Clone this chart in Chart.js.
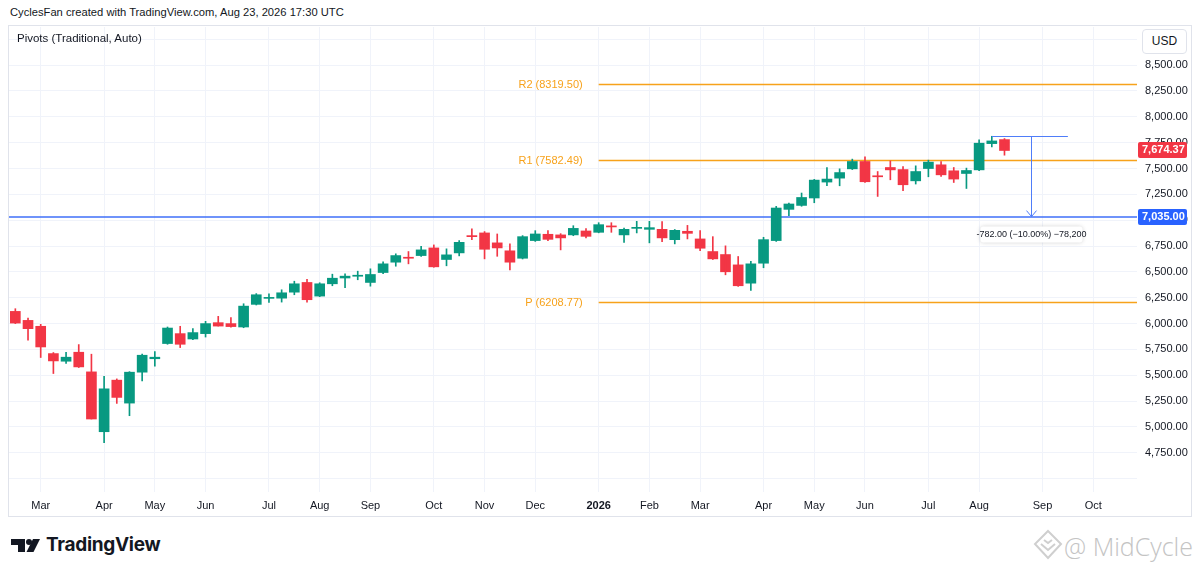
<!DOCTYPE html>
<html>
<head>
<meta charset="utf-8">
<script src="https://cdn.jsdelivr.net/npm/chart.js@4.4.1/dist/chart.umd.min.js"></script>
<style>
    body { margin: 0; width: 1200px; height: 574px; background: #fff; position: relative; overflow: hidden;
           font-family: "Liberation Sans", Arial, sans-serif; color: #131722; }
    #header { position: absolute; left: 10px; top: 6px; font-size: 11.2px; }
    #frame { position: absolute; left: 8px; top: 25px; width: 1182px; height: 490px; border: 1px solid #e0e3eb; }
    #wrap { position: absolute; left: 9px; top: 26px; width: 1182px; height: 490px; }
    #study { position: absolute; left: 17px; top: 32px; font-size: 11.5px; }
    #usd { position: absolute; left: 1142px; top: 29px; width: 43px; height: 23px; border: 1px solid #e0e3eb;
           border-radius: 4px; background: #fff; font-size: 12px; text-align: center; line-height: 23px; }
    #logo { position: absolute; left: 11px; top: 534px; }
    #logotext { position: absolute; left: 46px; top: 533px; font-family: Inter, "Liberation Sans", sans-serif;
                font-weight: 700; font-size: 19px; letter-spacing: -0.3px; }
    #wm { position: absolute; left: 1032px; top: 528px; }
    #wmtext { position: absolute; left: 1064px; top: 529px; font-family: "Open Sans", sans-serif; font-weight: 300;
              font-size: 25px; color: #c4c4c4; white-space: nowrap; }
</style>
</head>
<body>
<div id="header">CyclesFan created with TradingView.com, Aug 23, 2026 17:30 UTC</div>
<div id="frame"></div>
<div id="wrap"><canvas id="myChart"></canvas></div>
<div id="study">Pivots (Traditional, Auto)</div>
<div id="usd">USD</div>
<svg id="logo" width="32" height="20" viewBox="0 0 32 20">
    <rect x="0" y="5" width="14" height="6" fill="#131722"/>
    <rect x="7" y="5" width="7" height="13" fill="#131722"/>
    <circle cx="18" cy="8" r="3" fill="#131722"/>
    <polygon points="22,5 29,5 22.5,18 15.5,18" fill="#131722"/>
</svg>
<div id="logotext">TradingView</div>
<svg id="wm" width="32" height="34" viewBox="0 0 32 34">
    <g fill="none" stroke="#cfcfcf" stroke-width="2">
        <polygon points="16,3 29,16 16,30 3,16"/>
        <polyline points="9,16 16,22 23,16"/>
        <polyline points="12,12 16,15 20,12"/>
    </g>
</svg>
<div id="wmtext">@ MidCycle</div>

<script>
// weekly candles, Feb 17 2025 .. Aug 17 2026
const opens  = [6118, 6031, 5974, 5710, 5636, 5723, 5533, 4954, 5453, 5231, 5530, 5660, 5807, 5903, 5851, 5903, 6009, 6000, 5967, 6186,
                6244, 6246, 6304, 6398, 6266, 6385, 6441, 6458, 6398, 6494, 6594, 6642, 6658, 6732, 6620, 6684, 6851, 6877, 6781, 6704,
                6632, 6803, 6864, 6858, 6858, 6896, 6883, 6945, 6858, 6921, 6912, 6912, 6812, 6893, 6819, 6697, 6668, 6568, 6391, 6584,
                6803, 7105, 7143, 7215, 7369, 7407, 7497, 7568, 7430, 7510, 7490, 7381, 7500, 7536, 7478, 7452, 7487, 7741, 7780];
const highs  = [6144, 6054, 5993, 5720, 5723, 5797, 5704, 5491, 5465, 5535, 5704, 5730, 5967, 5974, 5951, 6022, 6070, 6057, 6192, 6290,
                6289, 6327, 6410, 6427, 6395, 6478, 6482, 6507, 6530, 6597, 6675, 6697, 6748, 6761, 6723, 6803, 6916, 6890, 6867, 6771,
                6851, 6899, 6899, 6870, 6947, 6918, 6976, 6976, 6925, 6989, 6989, 6986, 6910, 6950, 6899, 6841, 6752, 6649, 6603, 6835,
                7134, 7165, 7263, 7395, 7510, 7497, 7591, 7613, 7471, 7574, 7519, 7526, 7581, 7568, 7510, 7504, 7777, 7812, 7790];
const lows   = [6000, 5839, 5672, 5517, 5614, 5575, 5077, 4848, 5228, 5109, 5446, 5588, 5800, 5768, 5845, 5870, 5976, 5965, 5960, 6180,
                6205, 6208, 6279, 6208, 6260, 6366, 6347, 6424, 6362, 6482, 6555, 6578, 6650, 6545, 6559, 6655, 6812, 6626, 6651, 6520,
                6625, 6795, 6803, 6713, 6850, 6829, 6878, 6883, 6786, 6877, 6781, 6793, 6771, 6819, 6706, 6620, 6472, 6360, 6321, 6540,
                6795, 7044, 7135, 7169, 7333, 7333, 7490, 7365, 7230, 7391, 7285, 7350, 7420, 7423, 7365, 7307, 7480, 7709, 7629];
const closes = [6005, 5951, 5774, 5639, 5675, 5581, 5077, 5369, 5286, 5530, 5694, 5675, 5957, 5800, 5913, 6000, 5976, 5971, 6169, 6279,
                6253, 6298, 6385, 6231, 6385, 6439, 6459, 6468, 6475, 6578, 6658, 6632, 6713, 6549, 6665, 6786, 6841, 6719, 6732, 6594,
                6841, 6867, 6815, 6829, 6921, 6844, 6957, 6935, 6912, 6931, 6928, 6829, 6902, 6873, 6729, 6626, 6501, 6366, 6578, 6812,
                7118, 7157, 7220, 7388, 7398, 7461, 7568, 7372, 7420, 7487, 7343, 7471, 7562, 7439, 7398, 7481, 7745, 7767, 7674.37];

// time axis: bar index of first weekly bar in each month
const monthTickIdx    = [2, 7, 11, 15, 20, 24, 28, 33, 37, 41, 46, 50, 54, 59, 63, 67, 72, 76, 81, 85];
const monthTickLabels = ["Mar", "Apr", "May", "Jun", "Jul", "Aug", "Sep", "Oct", "Nov", "Dec",
                         "2026", "Feb", "Mar", "Apr", "May", "Jun", "Jul", "Aug", "Sep", "Oct"];
const priceTicks = [4500, 4750, 5000, 5250, 5500, 5750, 6000, 6250, 6500, 6750, 7000, 7250, 7500, 7750, 8000, 8250, 8500, 8750];

// pivots (Traditional, Auto) for 2026
const pivotNames  = ["R2", "R1", "P"];
const pivotValues = [8319.50, 7582.49, 6208.77];
const pivotStartIdx = 46;

// horizontal line + measure tool
const hLinePrice = 7035.00;
const measureFrom = 7812, measureTo = 7035;
const measureIdx = [77, 80.1, 83];
const measureText = "-782.00 (\u221210.00%) \u221278,200";

const UP = "#089981", DOWN = "#F23645", PIVOT = "#F7A21B", BLUE = "#2962FF";

const candleColors = closes.map((c, i) => c >= opens[i] ? UP : DOWN);
const fmt = v => v.toLocaleString("en-US", { minimumFractionDigits: 2, maximumFractionDigits: 2 });

function priceTag(ctx, chart, value, color) {
    const y = chart.scales.y.getPixelForValue(value);
    const x = chart.chartArea.right + 1;
    ctx.fillStyle = color;
    ctx.beginPath();
    ctx.roundRect(x, Math.round(y) - 8, 49, 16, 2);
    ctx.fill();
    ctx.fillStyle = "#fff";
    ctx.font = "bold 11px 'Liberation Sans', Arial, sans-serif";
    ctx.textAlign = "left";
    ctx.textBaseline = "middle";
    ctx.fillText(fmt(value), x + 4, Math.round(y));
}

const overlays = {
    id: "overlays",
    beforeDatasetsDraw(chart) {
        const { ctx, chartArea, scales } = chart;
        ctx.save();
        // pivot levels
        const x0 = scales.x.getPixelForValue(pivotStartIdx);
        ctx.font = "11px 'Liberation Sans', Arial, sans-serif";
        ctx.textAlign = "right";
        ctx.textBaseline = "middle";
        pivotValues.forEach((v, i) => {
            const y = Math.round(scales.y.getPixelForValue(v)) + 0.5;
            ctx.strokeStyle = PIVOT;
            ctx.lineWidth = 1.5;
            ctx.beginPath();
            ctx.moveTo(x0, y);
            ctx.lineTo(chartArea.right, y);
            ctx.stroke();
            ctx.fillStyle = PIVOT;
            ctx.fillText(pivotNames[i] + " (" + v.toFixed(2) + ")", x0 - 16, y);
        });
        // horizontal line
        const yb = Math.round(scales.y.getPixelForValue(hLinePrice));
        ctx.strokeStyle = "#3f6ff8";
        ctx.lineWidth = 1.4;
        ctx.beginPath();
        ctx.moveTo(chartArea.left, yb);
        ctx.lineTo(chartArea.right, yb);
        ctx.stroke();
        ctx.restore();
    },
    afterDraw(chart) {
        const { ctx, scales } = chart;
        ctx.save();
        // measure tool
        const ya = Math.round(scales.y.getPixelForValue(measureFrom)) + 0.5;
        const yb = scales.y.getPixelForValue(measureTo);
        const xs = scales.x.getPixelForValue(measureIdx[0]);
        const xm = Math.round(scales.x.getPixelForValue(measureIdx[1])) + 0.5;
        const xe = scales.x.getPixelForValue(measureIdx[2]);
        ctx.strokeStyle = "#4f7df9";
        ctx.lineWidth = 1;
        ctx.beginPath();
        ctx.moveTo(xs, ya); ctx.lineTo(xe, ya);
        ctx.moveTo(xm, ya); ctx.lineTo(xm, yb);
        ctx.moveTo(xm - 5, yb - 6); ctx.lineTo(xm, yb); ctx.lineTo(xm + 5, yb - 6);
        ctx.stroke();
        // measure label
        ctx.shadowColor = "rgba(0,0,0,0.18)";
        ctx.shadowBlur = 4;
        ctx.fillStyle = "#fff";
        ctx.beginPath();
        ctx.roundRect(xm - 51, yb + 10, 102, 16, 3);
        ctx.fill();
        ctx.shadowColor = "transparent";
        ctx.fillStyle = "#131722";
        ctx.font = "9px 'Liberation Sans', Arial, sans-serif";
        ctx.textAlign = "center";
        ctx.textBaseline = "middle";
        ctx.fillText(measureText, xm, yb + 18);
        // price tags on the axis
        priceTag(ctx, chart, closes[closes.length - 1], DOWN);
        priceTag(ctx, chart, hLinePrice, BLUE);
        ctx.restore();
    }
};

const labels = closes.map((c, i) => i);

new Chart(document.getElementById("myChart").getContext("2d"), {
    type: "bar",
    data: {
        datasets: [{
            label: "wick",
            data: labels.map(i => ({ x: i, y: [lows[i], highs[i]] })),
            backgroundColor: candleColors,
            barThickness: 1,
            grouped: false,
            minBarLength: 1
        }, {
            label: "body",
            data: labels.map(i => ({ x: i, y: [opens[i], closes[i]] })),
            backgroundColor: candleColors,
            barThickness: 10,
            grouped: false,
            minBarLength: 1
        }]
    },
    options: {
        responsive: true,
        maintainAspectRatio: false,
        animation: false,
        layout: { padding: { top: 1, left: 0, right: 0, bottom: 0 } },
        plugins: { legend: { display: false }, tooltip: { enabled: false } },
        scales: {
            x: {
                type: "linear",
                offset: false,
                min: -0.5,
                max: 88.45,
                border: { display: false },
                grid: { color: "#f0f3fa", drawTicks: false, offset: false },
                afterBuildTicks: s => { s.ticks = monthTickIdx.map(v => ({ value: v })); },
                afterFit: s => { s.height = 24; s.paddingLeft = 0; s.paddingRight = 0; },
                ticks: {
                    padding: 7,
                    autoSkip: false,
                    maxRotation: 0,
                    color: "#131722",
                    font: ctx => ({ size: 11, family: "'Liberation Sans', Arial, sans-serif",
                                    weight: ctx.tick && ctx.tick.value === 46 ? "bold" : "normal" }),
                    callback: v => monthTickLabels[monthTickIdx.indexOf(v)]
                }
            },
            y: {
                position: "right",
                min: 4371,
                max: 8869,
                border: { display: false },
                grid: { color: "#f0f3fa", drawTicks: false },
                afterBuildTicks: s => { s.ticks = priceTicks.map(v => ({ value: v })); },
                afterFit: s => { s.width = 54; s.paddingTop = 0; s.paddingBottom = 0; },
                ticks: {
                    padding: 8,
                    color: "#131722",
                    font: { size: 11, family: "'Liberation Sans', Arial, sans-serif" },
                    callback: v => (v >= 4750 && v <= 8500) ? fmt(v) : ""
                }
            }
        }
    },
    plugins: [overlays]
});
</script>
</body>
</html>
